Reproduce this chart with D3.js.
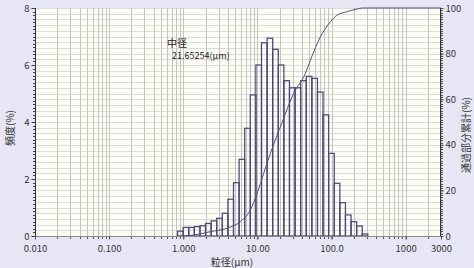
<!DOCTYPE html>
<html>
<head>
<meta charset="utf-8">
<script src="https://cdn.jsdelivr.net/npm/d3@7/dist/d3.min.js"></script>
<style>
  body { margin: 0; background: #e6e6f4; }
  svg text { font-family: "Noto Sans CJK JP", "DejaVu Sans", sans-serif; }
</style>
</head>
<body>
<svg id="chart" width="474" height="268"></svg>
<script>
// bin edges (um) and frequency (%) per bin
const binEdges = [0.838, 0.997, 1.186, 1.411, 1.679, 1.998, 2.377, 2.828, 3.365, 4.004,
  4.764, 5.668, 6.745, 8.025, 9.550, 11.36, 13.52, 16.09, 19.14, 22.78,
  27.10, 32.25, 38.37, 45.65, 54.33, 64.64, 76.91, 91.52, 108.9, 129.6,
  154.2, 183.4, 218.3, 259.7, 309.0];
const frequency = [0.17, 0.30, 0.30, 0.33, 0.36, 0.44, 0.53, 0.62, 0.80, 1.29,
  1.87, 2.69, 3.78, 4.95, 6.00, 6.78, 6.94, 6.55, 6.00, 5.45,
  5.20, 5.20, 5.45, 5.60, 5.53, 5.05, 4.25, 2.90, 1.85, 1.17,
  0.74, 0.50, 0.35, 0.07];

// cumulative curve (passing %)
const cumSize = [0.91, 1.38, 2.32, 3.9, 5.89, 8.04, 9.91, 12.17, 15.0, 21.65, 30.9, 44.5, 52.0, 71.0, 96.9, 119.4, 163, 222, 262, 3000];
const cumPercent = [0, 0.4, 1.9, 3.4, 6.3, 11.4, 18.7, 27.5, 36.3, 50, 62.6, 71.4, 77.2, 87.4, 94.0, 96.9, 98.4, 99.6, 100, 100];

const xTickValues = [0.01, 0.1, 1, 10, 100, 1000, 3000];
const xTickLabels = ["0.010", "0.100", "1.000", "10.00", "100.0", "1000", "3000"];
const leftTicks = [0, 2, 4, 6, 8];
const rightTicks = [0, 20, 40, 60, 80, 100];
const medianLabel = "中径";
const medianValue = "21.65254(μm)";

const svg = d3.select("#chart");
const pLeft = 35, pRight = 441, pTop = 8, pBottom = 236;

const x = d3.scaleLog().domain([0.01, 3000]).range([pLeft, pRight]);
const y = d3.scaleLinear().domain([0, 8]).range([pBottom, pTop]);
const yR = d3.scaleLinear().domain([0, 100]).range([pBottom, pTop]);

// plot background
svg.append("rect")
  .attr("x", pLeft).attr("y", pTop)
  .attr("width", pRight - pLeft).attr("height", pBottom - pTop)
  .attr("fill", "#fdfdf7");

// grid
let grid = svg.append("g");
let hLines = d3.range(0, 8.001, 0.2);
grid.selectAll(".h").data(hLines).enter().append("line")
  .attr("x1", pLeft).attr("x2", pRight)
  .attr("y1", d => Math.round(y(d)) + 0.5).attr("y2", d => Math.round(y(d)) + 0.5)
  .attr("stroke", "#dcdcd2").attr("stroke-width", 1);

let vLines = [];
[0.01, 0.1, 1, 10, 100, 1000].forEach(dec => {
  for (let m = 1; m <= 9; m++) {
    if (dec * m <= 3000) vLines.push(dec * m);
  }
});
grid.selectAll(".v").data(vLines).enter().append("line")
  .attr("x1", d => Math.round(x(d)) + 0.5).attr("x2", d => Math.round(x(d)) + 0.5)
  .attr("y1", pTop).attr("y2", pBottom)
  .attr("stroke", "#c4c4bc").attr("stroke-width", 1);

// histogram bars
svg.append("g").selectAll("rect").data(frequency).enter().append("rect")
  .attr("x", (d, i) => x(binEdges[i]))
  .attr("width", (d, i) => x(binEdges[i + 1]) - x(binEdges[i]))
  .attr("y", d => y(d))
  .attr("height", d => y(0) - y(d))
  .attr("fill", "none")
  .attr("stroke", "#48487a")
  .attr("stroke-width", 1.25);

// cumulative curve
let line = d3.line()
  .x(d => x(d[0]))
  .y(d => yR(d[1]))
  .curve(d3.curveMonotoneX);
svg.append("path")
  .datum(cumSize.map((s, i) => [s, cumPercent[i]]))
  .attr("d", line)
  .attr("fill", "none")
  .attr("stroke", "#505078")
  .attr("stroke-width", 1);

// axes lines
let axisColor = "#333";
svg.append("line").attr("x1", pLeft + 0.5).attr("x2", pLeft + 0.5).attr("y1", pTop).attr("y2", pBottom + 1).attr("stroke", axisColor);
svg.append("line").attr("x1", pRight - 0.5).attr("x2", pRight - 0.5).attr("y1", pTop).attr("y2", pBottom + 1).attr("stroke", axisColor);
svg.append("line").attr("x1", pLeft).attr("x2", pRight).attr("y1", pBottom + 0.5).attr("y2", pBottom + 0.5).attr("stroke", "#888");

// left axis
let yAxis = d3.axisLeft(y).tickValues(leftTicks).tickSize(4).tickPadding(2).tickFormat(d3.format("d"));
let gl = svg.append("g").attr("transform", `translate(${pLeft + 0.5},0)`).call(yAxis);
gl.select(".domain").remove();
svg.append("g").selectAll("line").data(d3.range(0, 8.001, 0.125)).enter().append("line")
  .attr("x1", pLeft - 2).attr("x2", pLeft)
  .attr("y1", d => Math.round(y(d)) + 0.5).attr("y2", d => Math.round(y(d)) + 0.5)
  .attr("stroke", "#444");

// right axis
let yAxisR = d3.axisRight(yR).tickValues(rightTicks).tickSize(3).tickPadding(2).tickFormat(d3.format("d"));
let gr = svg.append("g").attr("transform", `translate(${pRight - 0.5},0)`).call(yAxisR);
gr.select(".domain").remove();
svg.append("g").selectAll("line").data(d3.range(0, 100.1, 1)).enter().append("line")
  .attr("x1", pRight).attr("x2", pRight + 2)
  .attr("y1", d => Math.round(yR(d)) + 0.5).attr("y2", d => Math.round(yR(d)) + 0.5)
  .attr("stroke", "#555");

// bottom axis
let xAxis = d3.axisBottom(x).tickValues(xTickValues).tickSize(3).tickPadding(6)
  .tickFormat((d, i) => xTickLabels[i]);
let gb = svg.append("g").attr("transform", `translate(0,${pBottom + 0.5})`).call(xAxis);
gb.select(".domain").remove();
svg.append("g").selectAll("line").data(vLines).enter().append("line")
  .attr("x1", d => Math.round(x(d)) + 0.5).attr("x2", d => Math.round(x(d)) + 0.5)
  .attr("y1", pBottom + 1).attr("y2", pBottom + 3)
  .attr("stroke", "#555");

svg.selectAll(".tick text")
  .style("fill", "#333")
  .style("font-size", "9.5px");
svg.selectAll(".tick line").attr("stroke", "#333");

// axis titles
svg.append("text")
  .attr("transform", `translate(11,128) rotate(-90)`)
  .attr("text-anchor", "middle")
  .attr("dominant-baseline", "middle")
  .style("font-size", "10px").style("fill", "#333")
  .text("頻度(%)");
svg.append("text")
  .attr("transform", `translate(467,135) rotate(-90)`)
  .attr("text-anchor", "middle")
  .attr("dominant-baseline", "middle")
  .style("font-size", "10px").style("fill", "#333")
  .text("通過部分累計(%)");
svg.append("text")
  .attr("x", 232).attr("y", 266)
  .attr("text-anchor", "middle")
  .style("font-size", "10px").style("fill", "#333")
  .text("粒径(μm)");

// median annotation
svg.append("text").attr("x", 167).attr("y", 47)
  .style("font-size", "10px").style("fill", "#222").text(medianLabel);
svg.append("text").attr("x", 172).attr("y", 59)
  .style("font-size", "9px").style("fill", "#222").text(medianValue);
</script>
</body>
</html>
